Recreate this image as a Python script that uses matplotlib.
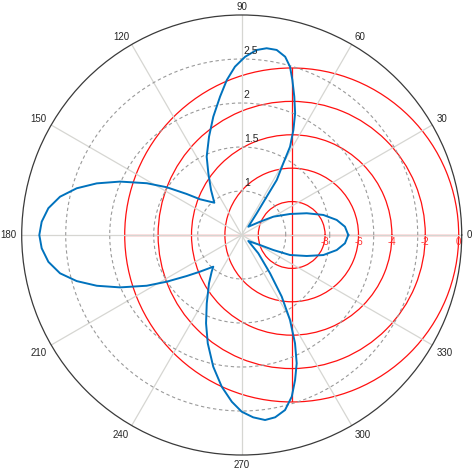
import numpy as np
import matplotlib
matplotlib.use("Agg")
import matplotlib.pyplot as plt

plt.rcParams['font.family'] = ['Liberation Sans Narrow', 'Liberation Sans', 'DejaVu Sans']

# pattern (angle in degrees, radius in axis units)
pattern_deg = [
    0, 4.6, 9.0, 13.8, 18.5, 23.5, 30.1, 36.0, 51.5,
    55.3, 56.9, 57.5, 59.9, 61.3, 63.8, 66.3, 69.2, 71.9, 74.0, 76.3, 79.3,
    82.4, 85.4, 88.9, 92.3, 95.5, 98.9, 103.5, 108.4, 114.1, 118.4, 124.3, 130.3,
    139.4, 143.3, 147.5, 151.4, 156.3, 160.4, 164.2, 168.1, 172.1, 176.2, 180.0,
    183.8, 187.9, 191.9, 195.6, 199.3, 203.3, 208.1, 211.9, 216.7, 221.3, 228.1,
    230.7, 235.9, 242.9, 248.0, 252.6, 257.8, 262.5, 266.6, 270.0, 273.6, 277.2,
    280.4, 283.9, 287.2, 290.2, 293.2, 296.2, 299.6, 303.0, 306.5, 312.2, 317.7,
    331.3, 334.6, 337.5, 342.1, 346.2, 351.0, 355.4, 360.0,
]
pattern_r = [
    1.711, 1.677, 1.593, 1.455, 1.279, 1.099, 0.915, 0.757, 0.620,
    0.800, 1.020, 1.241, 1.442, 1.644, 1.830, 2.010, 2.182, 2.353, 2.490, 2.585, 2.640,
    2.641, 2.609, 2.526, 2.414, 2.269, 2.091, 1.883, 1.677, 1.475, 1.297, 1.119, 0.981,
    1.124, 1.280, 1.510, 1.729, 2.010, 2.249, 2.449, 2.610, 2.718, 2.778, 2.800,
    2.778, 2.718, 2.610, 2.447, 2.245, 2.005, 1.724, 1.504, 1.280, 1.131, 0.984,
    1.039, 1.163, 1.372, 1.582, 1.790, 2.031, 2.239, 2.398, 2.508, 2.576, 2.619,
    2.606, 2.549, 2.423, 2.256, 2.086, 1.872, 1.611, 1.335, 1.041, 0.781, 0.601,
    0.737, 0.898, 1.094, 1.276, 1.455, 1.593, 1.677, 1.711,
]

angle_ticks = list(range(0, 360, 30))
angle_labels = [str(a) for a in angle_ticks]
r_ticks = [1, 1.5, 2, 2.5]
r_labels = ["1", "1.5", "2", "2.5"]

db_ticks = [-8, -6, -4, -2, 0]
db_labels = ["-8", "-6", "-4", "-2", "0"]

fig = plt.figure(figsize=(4.74, 4.76), dpi=100)

# red overlay (drawn underneath the main axes)
ax2 = fig.add_axes([0.2631, 0.1555, 0.7046, 0.7017], projection="polar")
ax2.set_ylim(-10, 0)
ax2.set_yticks(db_ticks[:-1])
ax2.set_yticklabels([])
ax2.set_xticks(np.deg2rad([0, 90, 180, 270]))
ax2.set_xticklabels([])
ax2.tick_params(length=0)
ax2.xaxis.grid(True, color="#ff1010", lw=0.9, ls="-")
ax2.yaxis.grid(True, color="#ff1010", lw=0.9, ls="-")
ax2.spines["polar"].set_color("#ff1010")
ax2.spines["polar"].set_linewidth(0.9)
ax2.patch.set_alpha(0)
for v, lab in zip(db_ticks, db_labels):
    ax2.annotate(lab, (0, v), xytext=(0, -5), textcoords="offset points",
                 ha="center", va="center", color="#ff3030", fontsize=7,
                 annotation_clip=False)

# main polar axes
ax = fig.add_axes([0.0458, 0.0441, 0.9283, 0.9244], projection="polar")
ax.patch.set_alpha(0)
ax.set_ylim(0.5, 3)
ax.set_yticks(r_ticks)
ax.set_yticklabels([])
ax.set_thetagrids(angle_ticks, labels=[""] * len(angle_ticks))
ax.tick_params(length=0)
ax.xaxis.grid(True, color="#d6d6d2", lw=0.9, ls="-")
ax.yaxis.grid(True, color="#9a9a9a", lw=0.8, ls=(0, (3, 2.5)))
ax.spines["polar"].set_color("#3a3a3a")
ax.spines["polar"].set_linewidth(0.9)

# angle labels, anchored just outside the rim like MATLAB does
for a, lab in zip(angle_ticks, angle_labels):
    c, s = np.cos(np.deg2rad(a)), np.sin(np.deg2rad(a))
    ha = "center" if abs(c) < 1e-6 else ("left" if c > 0 else "right")
    va = "center" if abs(s) < 1e-6 else ("baseline" if s > 0 else "top")
    ax.text(np.deg2rad(a), 3.06, lab, ha=ha, va=va, fontsize=7,
            color="#262626", clip_on=False)

for v, lab in zip(r_ticks, r_labels):
    ax.annotate(lab, (np.pi / 2, v), xytext=(1.5, 6), textcoords="offset points",
                ha="left", va="center", color="#262626", fontsize=7.5)

ax.plot(np.deg2rad(pattern_deg), pattern_r, color="#0072BD", lw=1.4)

fig.savefig("out.png", dpi=100)
